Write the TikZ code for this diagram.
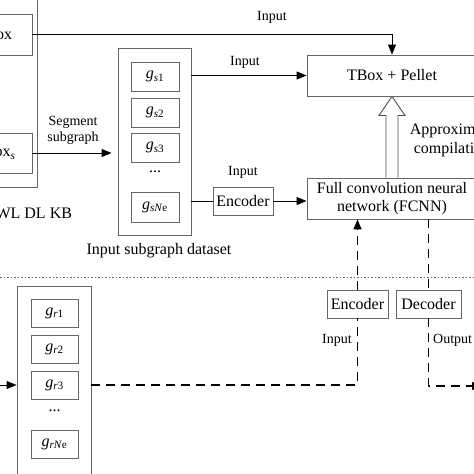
\documentclass[tikz,border=0pt]{standalone}
\usepackage{fontspec}
\setmainfont{Liberation Serif}
\usetikzlibrary{arrows.meta,calc}
\newcommand{\gsb}[2]{\textit{g}\textsubscript{\textit{#1}#2}}
\begin{document}
\begin{tikzpicture}[x=1pt,y=-1pt,
  box/.style={draw=black!60, line width=0.9pt, inner sep=0pt, font=\fontsize{16}{18}\selectfont, align=center},
  txt/.style={inner sep=0pt, font=\fontsize{16}{19}\selectfont, align=center},
  lbl/.style={inner sep=0pt, font=\fontsize{14}{16}\selectfont, align=center},
  conn/.style={line width=0.9pt, -{Triangle[length=10pt,width=8pt]}},
  plain/.style={line width=0.9pt},
  dconn/.style={line width=1.4pt, dash pattern=on 9pt off 6pt, -{Triangle[length=10pt,width=8pt]}},
  dplain/.style={line width=1.4pt, dash pattern=on 9pt off 6pt},
  hollow/.style={line width=0.9pt, draw=black!70, fill=white},
  sep/.style={draw=black!60, line width=0.7pt, dash pattern=on 1.5pt off 2pt},
]
\useasboundingbox (0,0) rectangle (474,474);
% OWL DL KB
\node[box, minimum width=86pt, minimum height=207pt] (kb) at (-6,83.5) {};
\node[box, minimum width=76pt, minimum height=41pt] (tbox) at (-6,34.5) {TBox};
\node[box, minimum width=76pt, minimum height=40pt] (abox) at (-6,153) {ABox\textsubscript{\textit{s}}};
\node[txt] (lkb) at (28,213) {OWL DL KB};
% input subgraph dataset
\node[box, minimum width=73pt, minimum height=187pt] (ds) at (154.5,141.5) {};
\node[box, minimum width=48pt, minimum height=29pt] (gs1) at (155,76.5) {\gsb{s}{1}};
\node[box, minimum width=48pt, minimum height=29pt] (gs2) at (155,112.5) {\gsb{s}{2}};
\node[box, minimum width=48pt, minimum height=29pt] (gs3) at (155,147.5) {\gsb{s}{3}};
\node[txt] (gsd) at (155,172) {...};
\node[box, minimum width=48pt, minimum height=30pt] (gsn) at (155,207) {\gsb{sN}{e}};
\node[txt] (ldsl) at (159,251) {Input subgraph dataset};
% right side
\node[box, minimum width=170pt, minimum height=41pt] (tp) at (392,75.5) {TBox + Pellet};
\node[box, minimum width=170pt, minimum height=41pt] (fcnn) at (392,198.5) {Full convolution neural\\network (FCNN)};
\node[box, minimum width=60pt, minimum height=28pt] (enc1) at (243,201) {Encoder};
\node[txt] (lapp) at (452,140.5) {Approximate\\compilation};
% separator
\draw[sep] (0,277) -- (474,277);
% bottom
\node[box, minimum width=74pt, minimum height=204pt] (gr) at (54,388) {};
\node[box, minimum width=47pt, minimum height=28pt] (gr1) at (54.5,313) {\gsb{r}{1}};
\node[box, minimum width=47pt, minimum height=28pt] (gr2) at (54.5,349) {\gsb{r}{2}};
\node[box, minimum width=47pt, minimum height=28pt] (gr3) at (54.5,385) {\gsb{r}{3}};
\node[txt] (grd) at (54.5,411) {...};
\node[box, minimum width=47pt, minimum height=28pt] (grn) at (54.5,444) {\gsb{rN}{e}};
\node[box, minimum width=61pt, minimum height=28pt] (enc2) at (357.5,304) {Encoder};
\node[box, minimum width=65pt, minimum height=28pt] (dec) at (428.5,304) {Decoder};
% labels
\node[lbl] (lin1) at (272,17) {Input};
\node[lbl] (lseg) at (73,130) {Segment\\subgraph};
\node[lbl] (lin2) at (245,62) {Input};
\node[lbl] (lin3) at (243,172) {Input};
\node[lbl] (lin4) at (337,340) {Input};
\node[lbl, anchor=west] (lout) at (433,340) {Output};
% connectors
\draw[conn] (tbox.east) -| (tp.north);
\draw[conn, shorten >=6pt] (abox.east) -- (abox.east -| ds.west);
\draw[conn] (ds.east |- tp.west) -- (tp.west);
\draw[plain] (ds.east |- enc1.west) -- (enc1.west);
\draw[conn] (enc1.east) -- (enc1.east -| fcnn.west);
\draw[hollow] ($(fcnn.north)+(-6,0)$) -- ($(tp.south)+(-6,19)$) -- ($(tp.south)+(-13,19)$) -- (tp.south) -- ($(tp.south)+(13,19)$) -- ($(tp.south)+(6,19)$) -- ($(fcnn.north)+(6,0)$);
\coordinate (inl) at (-20,385);
\draw[conn] (inl) -- (inl -| gr.west);
\draw[dplain] (gr.east |- gr3) -- (gr3 -| enc2.south) -- (enc2.south);
\draw[dconn] (enc2.north) -- (enc2.north |- fcnn.south);
\draw[dplain] (dec.north |- fcnn.south) -- (dec.north);
\coordinate (outend) at (482,386);
\draw[dconn] (dec.south) |- (outend);
\end{tikzpicture}
\end{document}
